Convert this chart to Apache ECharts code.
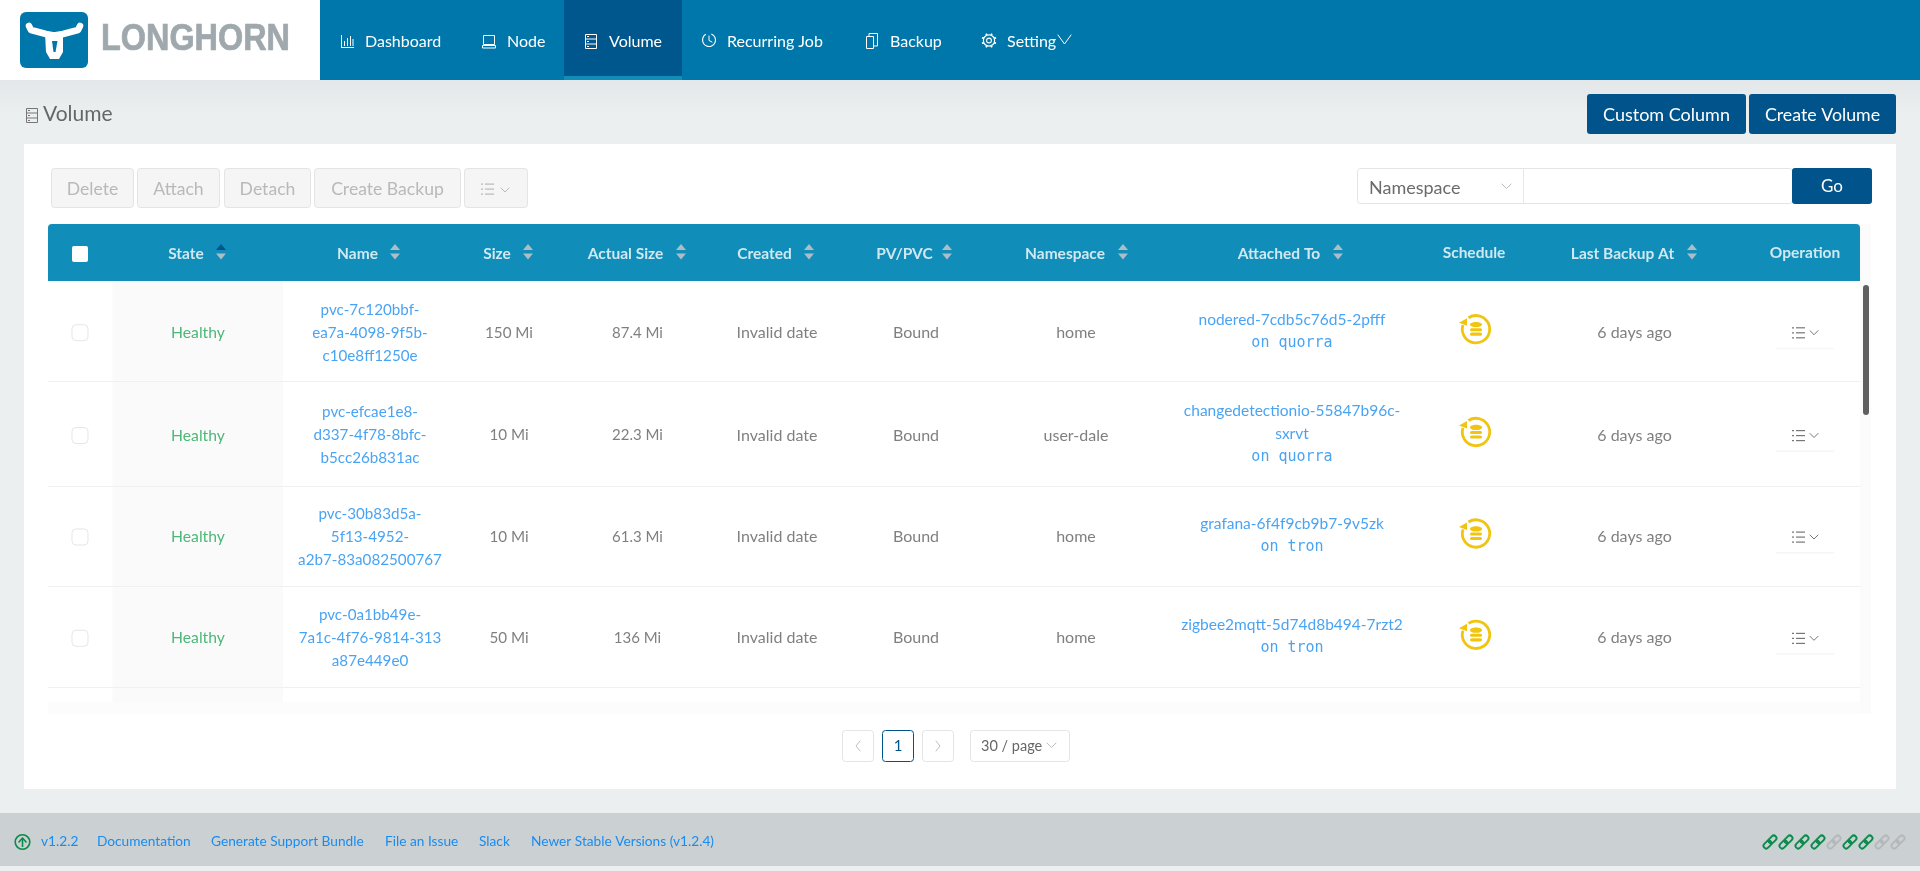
<!DOCTYPE html>
<html>
<head>
<meta charset="utf-8">
<title>Longhorn volumes</title>
<script src="https://cdn.jsdelivr.net/npm/echarts@6/dist/echarts.min.js"></script>
<style>
html,body{margin:0;padding:0;background:#ebeff0}
#chart{width:1920px;height:871px}
</style>
</head>
<body>
<div id="chart"></div>
<script>
// table content
var columnTitles = ['State', 'Name', 'Size', 'Actual Size', 'Created', 'PV/PVC', 'Namespace', 'Attached To', 'Schedule', 'Last Backup At', 'Operation'];
var columnSortable = [true, true, true, true, true, true, true, true, false, true, false];
var states = ['Healthy', 'Healthy', 'Healthy', 'Healthy'];
var volumeNames = [
  'pvc-7c120bbf-\nea7a-4098-9f5b-\nc10e8ff1250e',
  'pvc-efcae1e8-\nd337-4f78-8bfc-\nb5cc26b831ac',
  'pvc-30b83d5a-\n5f13-4952-\na2b7-83a082500767',
  'pvc-0a1bb49e-\n7a1c-4f76-9814-313\na87e449e0'
];
var sizes = ['150 Mi', '10 Mi', '10 Mi', '50 Mi'];
var actualSizes = ['87.4 Mi', '22.3 Mi', '61.3 Mi', '136 Mi'];
var created = ['Invalid date', 'Invalid date', 'Invalid date', 'Invalid date'];
var pvStatus = ['Bound', 'Bound', 'Bound', 'Bound'];
var namespaces = ['home', 'user-dale', 'home', 'home'];
var attachedPods = ['nodered-7cdb5c76d5-2pfff', 'changedetectionio-55847b96c-\nsxrvt', 'grafana-6f4f9cb9b7-9v5zk', 'zigbee2mqtt-5d74d8b494-7rzt2'];
var attachedNodes = ['on quorra', 'on quorra', 'on tron', 'on tron'];
var lastBackups = ['6 days ago', '6 days ago', '6 days ago', '6 days ago'];
var engineLinks = [1, 1, 1, 1, 0, 1, 1, 0, 0];
var footerLinks = ['Documentation', 'Generate Support Bundle', 'File an Issue', 'Slack', 'Newer Stable Versions (v1.2.4)'];
var navItems = ['Dashboard', 'Node', 'Volume', 'Recurring Job', 'Backup', 'Setting'];

// page layout, the hidden axes run 1:1 with the page
var rowMid = [332.7, 435.5, 537, 638.3];
var rowLines = [381, 486, 586, 687];
var colX = {check: 80, state: 198, name: 370, size: 509, actual: 637.5, created: 777, pv: 916, ns: 1076, attached: 1292, schedule: 1476, backup: 1634.5, op: 1804};
var headX = [186, 357.5, 497, 625.5, 764.5, 904.5, 1065, 1279, 1474, 1622.5, 1805];
var arrowX = [221, 395, 528, 681, 809, 947, 1123, 1338, 0, 1692, 0];
var navText = [365, 507, 609, 727, 890, 1007];
var footerX = [97, 211, 385, 479, 531];
var FONT = 'Lato';

// shape helpers
function rect(x, y, w, h, fill, stroke, r) {
  return {type: 'rect', shape: {x: x, y: y, width: w, height: h, r: r || 0}, style: {fill: fill, stroke: stroke || null, lineWidth: stroke ? 1 : 0}};
}
function box(x, y, w, h, fill, stroke, r) { // crisp 1px outline
  return rect(x + 0.5, y + 0.5, w - 1, h - 1, fill, stroke, r);
}
function line(x1, y1, x2, y2, color, w) {
  return {type: 'line', shape: {x1: x1, y1: y1, x2: x2, y2: y2}, style: {stroke: color, lineWidth: w || 1}};
}
function poly(points, fill) {
  return {type: 'polygon', shape: {points: points}, style: {fill: fill}};
}
function pline(points, color, w) {
  return {type: 'polyline', shape: {points: points}, style: {stroke: color, lineWidth: w, fill: null, lineCap: 'round', lineJoin: 'round'}};
}
function txt(x, y, s, size, color, align, weight) {
  return {type: 'text', x: x, y: y, style: {text: s, fontSize: size, fontFamily: FONT, fontWeight: weight || 400, fill: color, align: align || 'left', verticalAlign: 'middle'}};
}
function chevron(x, y, w, color) {
  return pline([[x, y], [x + w / 2, y + w / 2], [x + w, y]], color, 1);
}
function listIcon(x, y, color) {
  var out = [];
  [-5, 0, 5].forEach(function (d) {
    out.push(rect(x, y + d - 0.5, 2, 1.2, color));
    out.push(rect(x + 4, y + d - 0.5, 9, 1.2, color));
  });
  return out;
}
function volumeIcon(x, y, w, h, color) {
  return [
    box(x, y, w, h, null, color),
    line(x, y + h / 3, x + w, y + h / 3, color),
    line(x, y + 2 * h / 3, x + w, y + 2 * h / 3, color),
    rect(x + 2, y + 2, 2, 1, color),
    rect(x + 2, y + h / 3 + 2, 2, 1, color),
    rect(x + 2, y + 2 * h / 3 + 2, 2, 1, color)
  ];
}
function scheduleIcon(x, y) {
  var c = '#f1c40f';
  return [
    {type: 'arc', shape: {cx: x, cy: y, r: 13.7, startAngle: -2.15, endAngle: 3.45, clockwise: true}, style: {stroke: c, lineWidth: 2.8, fill: null}},
    poly([[x - 17, y - 6.5], [x - 9, y - 11], [x - 9, y - 3.5]], c),
    {type: 'ellipse', shape: {cx: x, cy: y - 4.6, rx: 6, ry: 2.6}, style: {fill: c}},
    rect(x - 6, y - 1, 12, 3, c, null, 1.5),
    rect(x - 6, y + 3.4, 12, 3.2, c, null, 1.6)
  ];
}
function linkIcon(x, y, color) {
  return [-1, 1].map(function (s) {
    return {
      type: 'rect', x: x + s * 2.5, y: y - s * 2.5, rotation: Math.PI / 4,
      shape: {x: -4.5, y: -2.7, width: 9, height: 5.4, r: 2.7},
      style: {fill: null, stroke: color, lineWidth: 1.9}
    };
  });
}

// page furniture
var chrome = [];
chrome.push(rect(0, 0, 320, 80, '#ffffff'));
chrome.push(rect(320, 0, 1600, 80, '#0077aa'));
chrome.push({type: 'rect', shape: {x: 0, y: 80, width: 1920, height: 34}, style: {fill: {type: 'linear', x: 0, y: 0, x2: 0, y2: 1, colorStops: [{offset: 0, color: '#e3e7e9'}, {offset: 1, color: '#ebeff0'}]}}});

// logo
chrome.push(rect(20, 12, 68, 56, '#0077aa', null, 6));
chrome.push(pline([[29, 26], [31, 30], [46, 34], [54, 35.5], [63, 34], [78, 30], [80, 26]], '#ffffff', 6.5));
chrome.push(poly([[45, 33], [63, 33], [63, 52], [59, 59], [50, 59], [46, 52]], '#ffffff'));
chrome.push(poly([[52, 41], [57.5, 41], [55.5, 52], [53.5, 52]], '#0077aa'));
var logoText = txt(101, 40.5, 'LONGHORN', 36, '#9fa8ad', 'left', 700);
logoText.style.fontFamily = '"Liberation Sans"';
logoText.style.stroke = '#9fa8ad';
logoText.style.lineWidth = 0.7;
logoText.scaleX = 0.9;
chrome.push(logoText);

// nav
chrome.push(rect(564, 0, 118, 76, '#00578d'));
chrome.push(rect(564, 76, 118, 4, '#108db8'));
navItems.forEach(function (n, i) {
  chrome.push(txt(navText[i], 41.5, n, 16, '#ffffff'));
});
var W = '#ffffff';
// dashboard
chrome.push(line(341, 47.5, 354, 47.5, W), line(341.5, 35, 341.5, 48, W));
chrome.push(line(344.5, 41, 344.5, 46, W), line(347.5, 38, 347.5, 46, W), line(350.5, 36, 350.5, 46, W), line(353, 39, 353, 46, W));
// node
chrome.push(box(483, 35, 12, 10, null, W), box(482, 45, 14, 3.5, null, W));
// volume
chrome = chrome.concat(volumeIcon(585, 34, 12, 15, W));
// recurring job
chrome.push({type: 'arc', shape: {cx: 709, cy: 40, r: 6.5, startAngle: -1.2, endAngle: 4.2, clockwise: true}, style: {stroke: W, lineWidth: 1.2, fill: null}});
chrome.push(pline([[709, 36], [709, 40.5], [712, 42]], W, 1));
// backup
chrome.push(box(866, 36, 8, 13, null, W), pline([[869, 36], [869, 33.5], [877.5, 33.5], [877.5, 46], [874, 46]], W, 1));
// setting
chrome.push({type: 'circle', shape: {cx: 989, cy: 40.5, r: 2.4}, style: {stroke: W, lineWidth: 1.1, fill: null}});
chrome.push({type: 'circle', shape: {cx: 989, cy: 40.5, r: 5.6}, style: {stroke: W, lineWidth: 1.2, fill: null}});
for (var g = 0; g < 8; g++) {
  var ang = g * Math.PI / 4 + Math.PI / 8;
  chrome.push(line(989 + 5.6 * Math.cos(ang), 40.5 + 5.6 * Math.sin(ang), 989 + 7.5 * Math.cos(ang), 40.5 + 7.5 * Math.sin(ang), W, 1.8));
}
chrome.push(pline([[1058, 35], [1064.5, 44], [1071, 35]], W, 1));

// title row
chrome = chrome.concat(volumeIcon(26, 108, 12, 15, '#777777'));
chrome.push(txt(43, 114, 'Volume', 21, '#666666'));
chrome.push(rect(1587, 94, 159, 40, '#00548b', null, 3), txt(1666.5, 115, 'Custom Column', 18, W, 'center'));
chrome.push(rect(1749, 94, 147, 40, '#00548b', null, 3), txt(1822.5, 115, 'Create Volume', 17.8, W, 'center'));

// panel
chrome.push(rect(24, 144, 1872, 645, '#ffffff'));

// disabled toolbar
[[51, 83, 'Delete'], [137, 83, 'Attach'], [224, 87, 'Detach'], [314, 147, 'Create Backup']].forEach(function (b) {
  chrome.push(box(b[0], 168, b[1], 40, '#f5f5f5', '#e4e4e4', 3));
  chrome.push(txt(b[0] + b[1] / 2, 189.5, b[2], 17.6, '#b9b9b9', 'center'));
});
chrome.push(box(464, 168, 64, 40, '#f5f5f5', '#e4e4e4', 3));
chrome = chrome.concat(listIcon(481, 189, '#b9b9b9'));
chrome.push(chevron(501, 188, 8, '#b9b9b9'));

// search box
chrome.push(box(1357, 168, 436, 36, '#ffffff', '#e4e4e4', 3));
chrome.push(line(1523.5, 168, 1523.5, 204, '#e8e8e8'));
chrome.push(txt(1369, 188.5, 'Namespace', 18, '#6b6b6b'));
chrome.push(chevron(1502, 184, 9, '#bdbdbd'));
chrome.push(rect(1792, 168, 80, 36, '#00548b', null, 3), txt(1832, 187, 'Go', 17, W, 'center'));

// table frame
chrome.push(rect(48, 702, 1823, 12, '#fcfcfc'));
chrome.push(rect(1860, 224, 11, 490, '#fbfbfb'));
chrome.push({type: 'rect', shape: {x: 48, y: 224, width: 1812, height: 57, r: [4, 4, 0, 0]}, style: {fill: '#108db8'}});
chrome.push(rect(72, 246, 16, 16, '#ffffff', null, 2));
chrome.push(rect(112.5, 281, 170.5, 421, '#fafafa'));
rowLines.forEach(function (y) {
  chrome.push(rect(48, y, 1812, 1, '#f0f0f0'));
});
chrome.push(rect(1863, 285, 6, 130, '#5f5f5f', null, 3));

// pagination
chrome.push(box(842, 730, 32, 32, '#ffffff', '#e4e4e4', 3), pline([[860, 741], [856, 746], [860, 751]], '#c0c0c0', 1));
chrome.push(box(882, 730, 32, 32, '#ffffff', '#00548b', 3), txt(898, 746, '1', 15, '#00548b', 'center'));
chrome.push(box(922, 730, 32, 32, '#ffffff', '#e4e4e4', 3), pline([[936, 741], [940, 746], [936, 751]], '#c0c0c0', 1));
chrome.push(box(970, 730, 100, 32, '#ffffff', '#e4e4e4', 3), txt(981, 746, '30 / page', 14.5, '#666666'), chevron(1047, 743, 9, '#bdbdbd'));

// footer
chrome.push(rect(0, 813, 1920, 53, '#cbd0d2'));
chrome.push({type: 'circle', shape: {cx: 22.5, cy: 842, r: 7.3}, style: {stroke: '#0a8a4b', lineWidth: 1.6, fill: null}});
chrome.push(pline([[19, 842], [22.5, 838], [26, 842]], '#0a8a4b', 1.6), line(22.5, 838.5, 22.5, 847, '#0a8a4b', 1.6));
chrome.push(txt(41, 841.5, 'v1.2.2', 13.7, '#1a8cf0'));
footerLinks.forEach(function (s, i) {
  chrome.push(txt(footerX[i], 841.5, s, 13.7, '#1a8cf0'));
});

function textColumn(x, values, color, size) {
  return {
    type: 'scatter', silent: true, symbolSize: 1, itemStyle: {color: 'transparent'},
    data: values.map(function (v, i) { return [x, rowMid[i], v]; }),
    label: {show: true, position: 'inside', color: color, fontFamily: FONT, fontSize: size, lineHeight: 23, align: 'center', verticalAlign: 'middle',
      formatter: function (p) { return p.value[2]; }}
  };
}
function iconColumn(x, yOffset, count, build) {
  var d = [];
  for (var i = 0; i < count; i++) d.push([x, rowMid[i] + yOffset]);
  return {
    type: 'custom', silent: true, data: d,
    renderItem: function (params, api) {
      var c = api.coord([api.value(0), api.value(1)]);
      return {type: 'group', children: build(c[0], c[1])};
    }
  };
}

var LINK = '#1a8cf0', GRAY = '#5f5f5f';
var series = [
  // header titles and sort arrows
  {
    type: 'scatter', silent: true, symbolSize: 1, itemStyle: {color: 'transparent'},
    data: columnTitles.map(function (t, i) { return [headX[i], columnSortable[i] ? 254 : 252.5, t]; }),
    label: {show: true, position: 'inside', color: '#ffffff', fontFamily: FONT, fontSize: 15.5, fontWeight: 700, align: 'center', verticalAlign: 'middle',
      formatter: function (p) { return p.value[2]; }}
  },
  {
    type: 'scatter', silent: true, symbol: 'triangle', symbolSize: [10, 6],
    data: columnTitles.map(function (t, i) { return {value: [arrowX[i], 247], itemStyle: {color: i === 0 ? '#00548b' : '#aebcc4', opacity: columnSortable[i] ? 1 : 0}}; })
  },
  {
    type: 'scatter', silent: true, symbol: 'triangle', symbolRotate: 180, symbolSize: [10, 6],
    data: columnTitles.map(function (t, i) { return {value: [arrowX[i], 256.5], itemStyle: {color: '#aebcc4', opacity: columnSortable[i] ? 1 : 0}}; })
  },
  // row checkboxes
  {
    type: 'scatter', silent: true, symbol: 'roundRect', symbolSize: 16,
    itemStyle: {color: '#ffffff', borderColor: '#e0e0e0', borderWidth: 1},
    data: rowMid.map(function (y) { return [colX.check, y]; })
  },
  textColumn(colX.state, states, '#22a858', 15.7),
  textColumn(colX.name, volumeNames, LINK, 15.2),
  textColumn(colX.size, sizes, GRAY, 15.2),
  textColumn(colX.actual, actualSizes, GRAY, 15),
  textColumn(colX.created, created, GRAY, 16),
  textColumn(colX.pv, pvStatus, GRAY, 16),
  textColumn(colX.ns, namespaces, GRAY, 16),
  textColumn(colX.backup, lastBackups, GRAY, 16),
  // attached to: pod name plus monospace node line
  {
    type: 'scatter', silent: true, symbolSize: 1, itemStyle: {color: 'transparent'},
    data: attachedPods.map(function (p, i) { return [colX.attached, rowMid[i] - 1.5, p, attachedNodes[i]]; }),
    label: {show: true, position: 'inside', align: 'center', verticalAlign: 'middle',
      formatter: function (p) {
        var pods = p.value[2].split('\n').map(function (s) { return '{pod|' + s + '}'; }).join('\n');
        return pods + '\n{node|' + p.value[3] + '}';
      },
      rich: {
        pod: {color: LINK, fontFamily: FONT, fontSize: 15.5, lineHeight: 23, align: 'center'},
        node: {color: LINK, fontFamily: '"DejaVu Sans Mono"', fontSize: 15, lineHeight: 23, align: 'center'}
      }}
  },
  iconColumn(colX.schedule, -3.5, 4, scheduleIcon),
  iconColumn(colX.op, 0, 4, function (x, y) {
    return listIcon(x - 12, y, '#777777').concat([chevron(x + 6, y - 2, 8, '#777777'), rect(x - 28, y + 15, 58, 1.5, '#f6f6f6')]);
  }),
  // engine links in the footer
  {
    type: 'custom', silent: true,
    data: engineLinks.map(function (on, i) { return [1770 + i * 16, 842, on]; }),
    renderItem: function (params, api) {
      var c = api.coord([api.value(0), api.value(1)]);
      return {type: 'group', children: linkIcon(c[0], c[1], api.value(2) ? '#0a8a4b' : '#b4b8ba')};
    }
  }
];

var chart = echarts.init(document.getElementById('chart'));
chart.setOption({
  animation: false,
  backgroundColor: '#ebeff0',
  grid: {left: 0, right: 0, top: 0, bottom: 0},
  xAxis: {type: 'value', min: 0, max: 1920, show: false},
  yAxis: {type: 'value', min: 0, max: 871, inverse: true, show: false},
  graphic: {elements: chrome.map(function (e) { e.silent = true; return e; })},
  series: series
});
</script>
</body>
</html>
